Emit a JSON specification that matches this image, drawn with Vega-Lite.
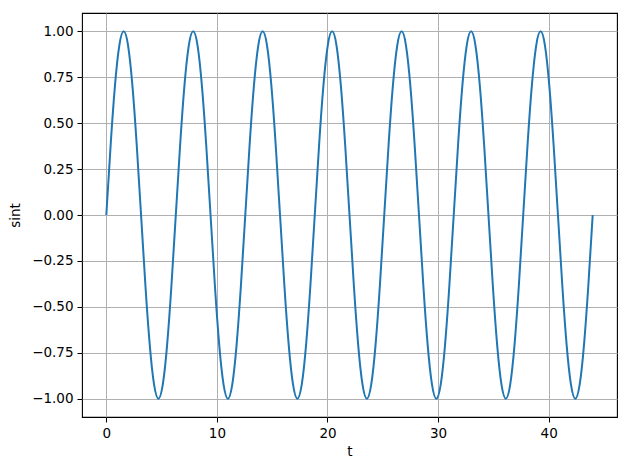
{
  "$schema": "https://vega.github.io/schema/vega-lite/v6.json",
  "autosize": "none",
  "width": 535,
  "height": 404,
  "padding": {"left": 82, "top": 13, "right": 13, "bottom": 53},
  "background": "white",
  "config": {
    "view": {"stroke": "black", "strokeWidth": 1.1},
    "font": "DejaVu Sans"
  },
  "data": {"values": [
    {"t": 0, "sint": 0}, {"t": 0.3927, "sint": 0.3827}, {"t": 0.7854, "sint": 0.7071}, {"t": 1.1781, "sint": 0.9239}, {"t": 1.5708, "sint": 1}, {"t": 1.9635, "sint": 0.9239}, {"t": 2.3562, "sint": 0.7071}, {"t": 2.7489, "sint": 0.3827},
    {"t": 3.1416, "sint": 0}, {"t": 3.5343, "sint": -0.3827}, {"t": 3.927, "sint": -0.7071}, {"t": 4.3197, "sint": -0.9239}, {"t": 4.7124, "sint": -1}, {"t": 5.1051, "sint": -0.9239}, {"t": 5.4978, "sint": -0.7071}, {"t": 5.8905, "sint": -0.3827},
    {"t": 6.2832, "sint": 0}, {"t": 6.6759, "sint": 0.3827}, {"t": 7.0686, "sint": 0.7071}, {"t": 7.4613, "sint": 0.9239}, {"t": 7.854, "sint": 1}, {"t": 8.2467, "sint": 0.9239}, {"t": 8.6394, "sint": 0.7071}, {"t": 9.0321, "sint": 0.3827},
    {"t": 9.4248, "sint": 0}, {"t": 9.8175, "sint": -0.3827}, {"t": 10.2102, "sint": -0.7071}, {"t": 10.6029, "sint": -0.9239}, {"t": 10.9956, "sint": -1}, {"t": 11.3883, "sint": -0.9239}, {"t": 11.781, "sint": -0.7071}, {"t": 12.1737, "sint": -0.3827},
    {"t": 12.5664, "sint": 0}, {"t": 12.9591, "sint": 0.3827}, {"t": 13.3518, "sint": 0.7071}, {"t": 13.7445, "sint": 0.9239}, {"t": 14.1372, "sint": 1}, {"t": 14.5299, "sint": 0.9239}, {"t": 14.9226, "sint": 0.7071}, {"t": 15.3153, "sint": 0.3827},
    {"t": 15.708, "sint": 0}, {"t": 16.1007, "sint": -0.3827}, {"t": 16.4934, "sint": -0.7071}, {"t": 16.8861, "sint": -0.9239}, {"t": 17.2788, "sint": -1}, {"t": 17.6715, "sint": -0.9239}, {"t": 18.0642, "sint": -0.7071}, {"t": 18.4569, "sint": -0.3827},
    {"t": 18.8496, "sint": 0}, {"t": 19.2423, "sint": 0.3827}, {"t": 19.635, "sint": 0.7071}, {"t": 20.0277, "sint": 0.9239}, {"t": 20.4204, "sint": 1}, {"t": 20.8131, "sint": 0.9239}, {"t": 21.2058, "sint": 0.7071}, {"t": 21.5985, "sint": 0.3827},
    {"t": 21.9911, "sint": 0}, {"t": 22.3838, "sint": -0.3827}, {"t": 22.7765, "sint": -0.7071}, {"t": 23.1692, "sint": -0.9239}, {"t": 23.5619, "sint": -1}, {"t": 23.9546, "sint": -0.9239}, {"t": 24.3473, "sint": -0.7071}, {"t": 24.74, "sint": -0.3827},
    {"t": 25.1327, "sint": 0}, {"t": 25.5254, "sint": 0.3827}, {"t": 25.9181, "sint": 0.7071}, {"t": 26.3108, "sint": 0.9239}, {"t": 26.7035, "sint": 1}, {"t": 27.0962, "sint": 0.9239}, {"t": 27.4889, "sint": 0.7071}, {"t": 27.8816, "sint": 0.3827},
    {"t": 28.2743, "sint": 0}, {"t": 28.667, "sint": -0.3827}, {"t": 29.0597, "sint": -0.7071}, {"t": 29.4524, "sint": -0.9239}, {"t": 29.8451, "sint": -1}, {"t": 30.2378, "sint": -0.9239}, {"t": 30.6305, "sint": -0.7071}, {"t": 31.0232, "sint": -0.3827},
    {"t": 31.4159, "sint": 0}, {"t": 31.8086, "sint": 0.3827}, {"t": 32.2013, "sint": 0.7071}, {"t": 32.594, "sint": 0.9239}, {"t": 32.9867, "sint": 1}, {"t": 33.3794, "sint": 0.9239}, {"t": 33.7721, "sint": 0.7071}, {"t": 34.1648, "sint": 0.3827},
    {"t": 34.5575, "sint": 0}, {"t": 34.9502, "sint": -0.3827}, {"t": 35.3429, "sint": -0.7071}, {"t": 35.7356, "sint": -0.9239}, {"t": 36.1283, "sint": -1}, {"t": 36.521, "sint": -0.9239}, {"t": 36.9137, "sint": -0.7071}, {"t": 37.3064, "sint": -0.3827},
    {"t": 37.6991, "sint": 0}, {"t": 38.0918, "sint": 0.3827}, {"t": 38.4845, "sint": 0.7071}, {"t": 38.8772, "sint": 0.9239}, {"t": 39.2699, "sint": 1}, {"t": 39.6626, "sint": 0.9239}, {"t": 40.0553, "sint": 0.7071}, {"t": 40.448, "sint": 0.3827},
    {"t": 40.8407, "sint": 0}, {"t": 41.2334, "sint": -0.3827}, {"t": 41.6261, "sint": -0.7071}, {"t": 42.0188, "sint": -0.9239}, {"t": 42.4115, "sint": -1}, {"t": 42.8042, "sint": -0.9239}, {"t": 43.1969, "sint": -0.7071}, {"t": 43.5896, "sint": -0.3827},
    {"t": 43.9823, "sint": 0}
  ]},
  "mark": {"type": "line", "color": "#1f77b4", "strokeWidth": 2, "interpolate": "natural", "clip": true},
  "encoding": {
    "x": {
      "field": "t", "type": "quantitative",
      "scale": {"domain": [-2.199, 46.181], "nice": false, "zero": false},
      "axis": {
        "title": "t", "values": [0, 10, 20, 30, 40], "format": "d",
        "grid": true, "gridColor": "#b0b0b0", "gridWidth": 1, "gridOpacity": 1,
        "domain": false, "tickColor": "black", "tickSize": 5, "tickWidth": 1,
        "labelFont": "DejaVu Sans", "labelFontSize": 13.5, "labelColor": "black", "labelPadding": 4,
        "titleFont": "DejaVu Sans", "titleFontSize": 13.5, "titleFontWeight": "normal", "titleColor": "black", "titlePadding": 5
      }
    },
    "y": {
      "field": "sint", "type": "quantitative",
      "scale": {"domain": [-1.1, 1.1], "nice": false, "zero": false},
      "axis": {
        "title": "sint", "values": [-1, -0.75, -0.5, -0.25, 0, 0.25, 0.5, 0.75, 1], "format": ".2f",
        "grid": true, "gridColor": "#b0b0b0", "gridWidth": 1, "gridOpacity": 1,
        "domain": false, "tickColor": "black", "tickSize": 5, "tickWidth": 1,
        "labelFont": "DejaVu Sans", "labelFontSize": 13.5, "labelColor": "black", "labelPadding": 4,
        "titleFont": "DejaVu Sans", "titleFontSize": 13.5, "titleFontWeight": "normal", "titleColor": "black", "titlePadding": 9
      }
    }
  }
}
